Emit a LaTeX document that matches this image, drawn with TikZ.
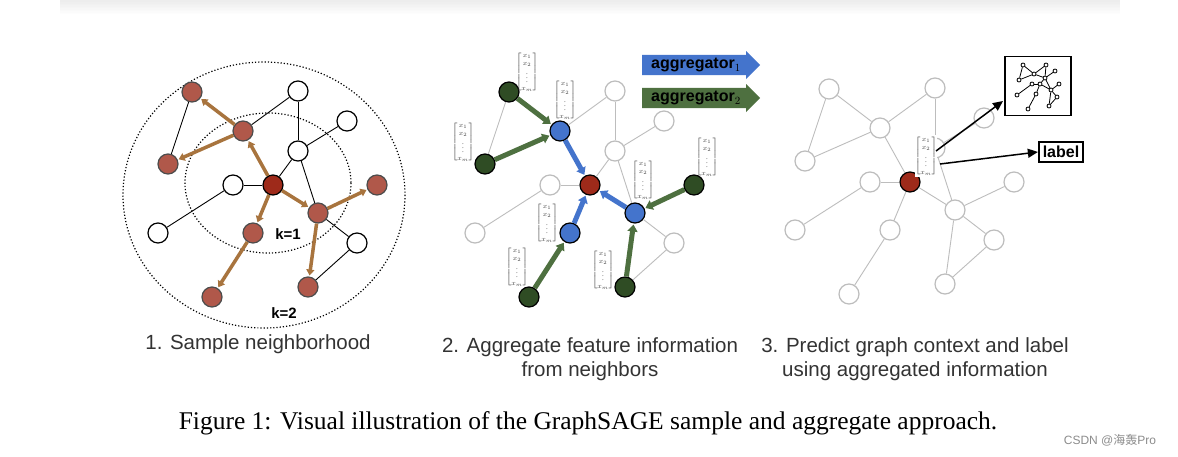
\documentclass[tikz,border=0pt]{standalone}
\usepackage{amsmath}
\usepackage{fontspec}
\setmainfont{Liberation Serif}
\setsansfont{Liberation Sans}
\newfontfamily\cjkf{Noto Sans CJK SC}
\usetikzlibrary{arrows.meta,shapes.arrows}
\definecolor{redc}{HTML}{9E2A1A}
\definecolor{redn}{HTML}{B0584A}
\definecolor{brn}{HTML}{A8743E}
\definecolor{blu}{HTML}{4474CC}
\definecolor{grn}{HTML}{2F4C24}
\definecolor{grna}{HTML}{4E7040}
\definecolor{lgray}{HTML}{BDBDBD}
\tikzset{
 nd/.style={circle,minimum size=20pt,inner sep=0pt,line width=1.2pt},
 wn/.style={nd,draw=black,fill=white},
 rn/.style={nd,draw=black!70,fill=redn},
 cn/.style={nd,draw=black,fill=redc},
 bn/.style={nd,draw=black,fill=blu},
 gn/.style={nd,draw=black,fill=grn},
 ln/.style={nd,draw=lgray,fill=white},
 bedge/.style={black,line width=0.9pt},
 gedge/.style={lgray,line width=0.9pt},
 barr/.style={brn,line width=3.5pt,-{Triangle[length=6pt,width=8pt]},shorten >=1pt},
 blarr/.style={blu,line width=5pt,-{Triangle[length=7pt,width=10pt]},shorten >=1pt},
 grarr/.style={grna,line width=5pt,-{Triangle[length=7pt,width=10pt]},shorten >=1pt},
 vec/.style={inner sep=0pt,font=\fontsize{7}{8}\selectfont,text=black!75},
 captxt/.style={font=\sffamily\fontsize{20.5}{24}\selectfont,text=black!80,align=center},
 pbox/.style={draw=black,line width=1.8pt,fill=white},
}
\newcommand{\fv}{$\begin{bmatrix}x_1\\x_2\\\vdots\\x_m\end{bmatrix}$}
\begin{document}
\begin{tikzpicture}[x=1pt,y=-1pt]
\useasboundingbox (0,0) rectangle (1178,456);
\fill[white] (0,0) rectangle (1178,456);
\foreach \i in {0,...,8} \fill[black,opacity=0.006] (60,0) rectangle (1120,2+\i*1.5);
% ---------- panel 1 ----------
\draw[dotted,line width=1.2pt] (264,195) ellipse [x radius=141,y radius=133];
\draw[dotted,line width=1.2pt] (268,183) ellipse [x radius=83,y radius=70];
\foreach \n/\x/\y/\s in {C/273/185/cn,A/243/131/rn,TL/192/92/rn,L/168/164/rn,T/298/91/wn,M/298/151/wn,R/347/121/wn,W/233/185/wn,FL/158/233/wn,B/253/233/rn,BL/212/297/rn,D/318/213/rn,RR/377/185/rn,E/357/243/wn,BR/308/287/rn}
  \node[\s] (a\n) at (\x,\y) {};
\foreach \u/\v in {TL/L,A/T,C/W,W/FL,C/M,M/T,M/R,M/D,D/E,E/BR}
  \draw[bedge] (a\u) -- (a\v);
\foreach \u/\v in {A/TL,A/L,C/A,C/B,B/BL,C/D,D/RR,D/BR}
  \draw[barr] (a\u) -- (a\v);
\node[font=\sffamily\bfseries\fontsize{15}{15}\selectfont] (k1) at (288,234) {k=1};
\node[font=\sffamily\bfseries\fontsize{15}{15}\selectfont] (k2) at (284,313) {k=2};
\node[captxt] (c1) at (258,344) {1. Sample neighborhood};
% ---------- panel 2 ----------
\begin{scope}[shift={(317,0)}]
\foreach \n/\x/\y/\s in {C/273/185/cn,A/243/131/bn,TL/192/92/gn,L/168/164/gn,T/298/91/ln,M/298/151/ln,R/347/121/ln,W/233/185/ln,FL/158/233/ln,B/253/233/bn,BL/212/297/gn,D/318/213/bn,RR/377/185/gn,E/357/243/ln,BR/308/287/gn}
  \node[\s] (b\n) at (\x,\y) {};
\foreach \u/\v in {TL/L,A/T,C/W,W/FL,C/M,M/T,M/R,M/D,D/E,E/BR}
  \draw[gedge] (b\u) -- (b\v);
\foreach \u/\v in {A/C,B/C,D/C}
  \draw[blarr] (b\u) -- (b\v);
\foreach \u/\v in {TL/A,L/A,BL/B,RR/D,BR/D}
  \draw[grarr] (b\u) -- (b\v);
\end{scope}
\foreach \n/\x/\y in {v1/527/72,v2/565/100,v3/463/142,v4/643/180,v5/707/157,v6/547/223,v7/517/267,v8/603/270}
  \node[vec] (\n) at (\x,\y) {\fv};
\node[single arrow,fill=blu,minimum height=118pt,minimum width=28pt,single arrow head extend=3pt,inner sep=1pt,font=\sffamily\bfseries\fontsize{16}{16}\selectfont] (ag1) at (696,65) {aggregator$_1$\hspace{4pt}};
\node[single arrow,fill=grna,minimum height=118pt,minimum width=28pt,single arrow head extend=3pt,inner sep=1pt,font=\sffamily\bfseries\fontsize{16}{16}\selectfont] (ag2) at (696,98) {aggregator$_2$\hspace{4pt}};
\node[captxt] (c2) at (590,359) {2. Aggregate feature information\\from neighbors};
% ---------- panel 3 ----------
\begin{scope}[shift={(637,-3)}]
\foreach \n/\x/\y/\s in {C/273/185/cn,A/243/131/ln,TL/192/92/ln,L/168/164/ln,T/298/91/ln,M/298/151/ln,R/347/121/ln,W/233/185/ln,FL/158/233/ln,B/253/233/ln,BL/212/297/ln,D/318/213/ln,RR/377/185/ln,E/357/243/ln,BR/308/287/ln}
  \node[\s] (c\n) at (\x,\y) {};
\foreach \u/\v in {TL/L,A/T,C/W,W/FL,C/M,M/T,M/R,M/D,D/E,E/BR,TL/A,L/A,BL/B,RR/D,BR/D,A/C,B/C,D/C}
  \draw[gedge] (c\u) -- (c\v);
\end{scope}
\node[vec,fill=white] (v9) at (926,156) {\fv};
\node[pbox,minimum width=66pt,minimum height=59pt] (gbox) at (1038,86) {};
\node[pbox,inner sep=4pt,font=\sffamily\bfseries\fontsize{16}{16}\selectfont] (lab) at (1061,152) {label};
\coordinate (s1) at (936,151);
\coordinate (s2) at (940,164);
\draw[line width=1.5pt,-{Triangle[length=10pt,width=9pt]}] (s1) -- (1003,101);
\draw[line width=1.5pt,-{Triangle[length=10pt,width=9pt]}] (s2) -- (lab.west);
% mini graph
\begin{scope}[every node/.style={circle,draw,inner sep=0pt,minimum size=4pt,line width=0.8pt,fill=white}]
\foreach \n/\x/\y in {1/1023/65,2/1034/74,3/1046/65,4/1019/80,5/1032/84,6/1045/78,7/1055/71,8/1040/84,9/1059/84,10/1051/90,11/1017/95,12/1036/94,13/1028/109,14/1049/106,15/1057/97}
 \node (m\n) at (\x,\y) {};
\end{scope}
\foreach \u/\v in {1/2,2/3,1/4,2/4,2/6,3/6,6/7,6/8,5/8,8/10,10/9,10/15,15/14,14/10,11/5,12/13,6/10,8/12}
 \draw[line width=0.8pt] (m\u) -- (m\v);
\node[captxt] (c3) at (915,359) {3. Predict graph context and label\\using aggregated information};
% caption
\node[font=\fontsize{25.5}{28}\selectfont] (fig) at (588,423) {Figure 1: Visual illustration of the GraphSAGE sample and aggregate approach.};
\node[font=\sffamily\fontsize{12}{12}\selectfont,text=black!45] (csdn) at (1110,440) {CSDN @{\cjkf 海轰}Pro};
\end{tikzpicture}
\end{document}
